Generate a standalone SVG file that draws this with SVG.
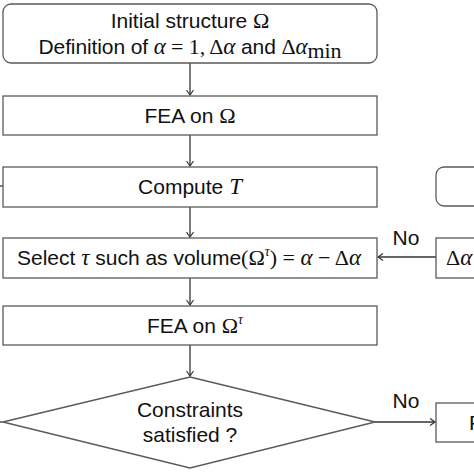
<svg xmlns="http://www.w3.org/2000/svg" width="474" height="474" viewBox="0 0 474 474">
<defs>
<marker id="ah" markerWidth="10" markerHeight="10" refX="8" refY="5" orient="auto" markerUnits="userSpaceOnUse">
<path d="M3,1.5 L8,5 L3,8.5" fill="none" stroke="#333" stroke-width="1.2"/>
</marker>
<style>
.box{fill:#fff;stroke:#5a5a5a;stroke-width:1.3}
.t{font-family:"Liberation Sans","Noto Sans",sans-serif;font-size:21px;fill:#111;text-anchor:middle}
.s{text-anchor:start}
.m{font-family:"Liberation Serif","DejaVu Serif",serif;font-size:22px}
.i{font-family:"Liberation Serif","DejaVu Serif",serif;font-style:italic;font-size:23px}
.c{stroke:#333;stroke-width:1.3;fill:none}
</style>
</defs>
<rect width="474" height="474" fill="#fff"/>
<g id="connectors">
<line class="c" x1="190" y1="63" x2="190" y2="95" marker-end="url(#ah)"/>
<line class="c" x1="190" y1="135" x2="190" y2="166" marker-end="url(#ah)"/>
<line class="c" x1="190" y1="207" x2="190" y2="237" marker-end="url(#ah)"/>
<line class="c" x1="190" y1="278" x2="190" y2="305" marker-end="url(#ah)"/>
<line class="c" x1="190" y1="345" x2="190" y2="376" marker-end="url(#ah)"/>
<line class="c" x1="436" y1="257" x2="378" y2="257" marker-end="url(#ah)"/>
<line class="c" x1="375" y1="422" x2="435" y2="422" marker-end="url(#ah)"/>
<line class="c" x1="0" y1="186" x2="3" y2="186"/>
<line class="c" x1="0" y1="422" x2="3" y2="422"/>
<text class="t" x="406" y="245">No</text>
<text class="t" x="406" y="408">No</text>
</g>
<g id="n-init">
<rect class="box" x="3" y="4" width="374" height="59" rx="8"/>
<text class="t" x="190" y="28">Initial structure <tspan class="m">Ω</tspan></text>
<text class="t" x="190" y="54" textLength="303" lengthAdjust="spacing">Definition of <tspan class="i">α</tspan><tspan class="m"> = 1, Δ</tspan><tspan class="i">α</tspan> and <tspan class="m">Δ</tspan><tspan class="i">α</tspan><tspan class="m" font-size="15" dy="4">min</tspan></text>
</g>
<g id="n-fea1">
<rect class="box" x="3" y="96" width="374" height="39"/>
<text class="t" x="190" y="123">FEA on <tspan class="m">Ω</tspan></text>
</g>
<g id="n-compute">
<rect class="box" x="3" y="167" width="374" height="40"/>
<text class="t" x="190" y="194">Compute <tspan class="i">T</tspan></text>
</g>
<g id="n-select">
<rect class="box" x="3" y="238" width="374" height="40"/>
<text class="t" x="189" y="265" textLength="344" lengthAdjust="spacing">Select <tspan class="i">τ</tspan> such as volume<tspan class="m">(Ω</tspan><tspan class="i" style="font-size:14px" dy="-9">τ</tspan><tspan class="m" dy="9">) = </tspan><tspan class="i">α</tspan><tspan class="m"> − Δ</tspan><tspan class="i">α</tspan></text>
</g>
<g id="n-fea2">
<rect class="box" x="3" y="306" width="374" height="39"/>
<text class="t" x="195" y="333">FEA on <tspan class="m">Ω</tspan><tspan class="i" style="font-size:14px" dy="-9">τ</tspan></text>
</g>
<g id="n-decision">
<polygon class="box" points="190,377 375,422 190,468 3,422"/>
<text class="t" x="190" y="417">Constraints</text>
<text class="t" x="190" y="442">satisfied ?</text>
</g>
<g id="n-right-top">
<rect class="box" x="436" y="167" width="60" height="39" rx="8"/>
</g>
<g id="n-right-mid">
<rect class="box" x="436" y="238" width="60" height="40"/>
<text class="t s" x="446" y="265"><tspan class="m">Δ</tspan><tspan class="i">α</tspan></text>
</g>
<g id="n-right-bot">
<rect class="box" x="436" y="403" width="60" height="39"/>
<text class="t s" x="469" y="430">F</text>
</g>
</svg>
